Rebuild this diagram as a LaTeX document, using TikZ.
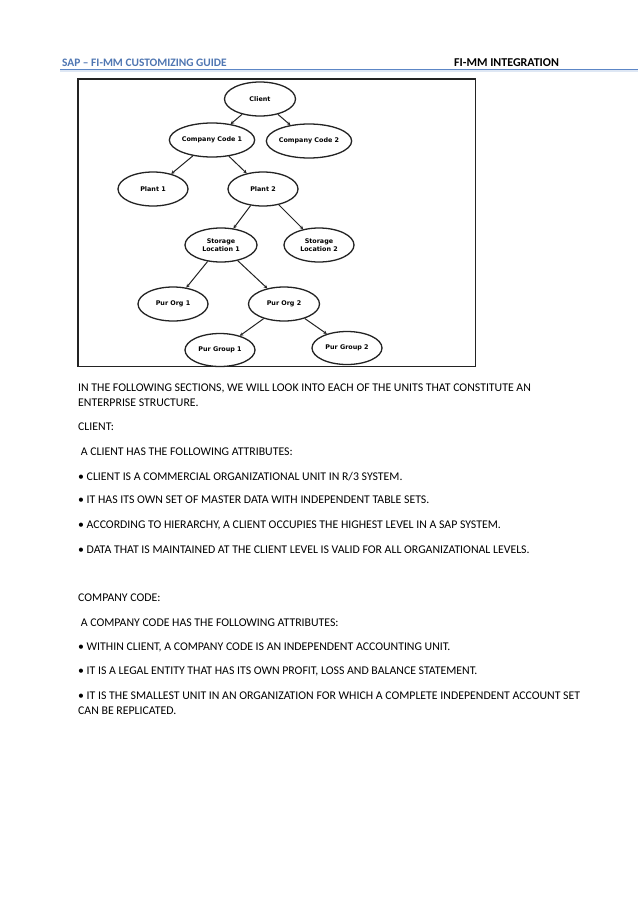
\documentclass[tikz,border=0pt]{standalone}
\usepackage{fontspec}
\setmainfont{Carlito}
\newfontfamily\nodefont{DejaVu Sans}
\usetikzlibrary{shapes.geometric,arrows.meta}
\definecolor{hdrblue}{RGB}{79,118,178}
\definecolor{rulecol}{RGB}{92,134,198}
\definecolor{edgecol}{RGB}{35,35,35}
\tikzset{
  org/.style={ellipse, draw=edgecol, line width=1.3pt, inner sep=0pt,
    minimum width=70pt, minimum height=34pt, align=center,
    font=\nodefont\bfseries\fontsize{6.4}{7.4}\selectfont},
  arr/.style={draw=edgecol, line width=1pt, -{Stealth[length=3.5pt,width=3.5pt]}},
  body/.style={anchor=base west, inner sep=0pt, font=\fontsize{11.8}{14}\selectfont},
  hdr/.style={anchor=base west, inner sep=0pt, font=\bfseries\fontsize{11.8}{14}\selectfont}
}
\begin{document}
\begin{tikzpicture}[x=1pt,y=-1pt]
\useasboundingbox (0,0) rectangle (638,902);
\fill[white] (0,0) rectangle (638,902);
% header
\node[hdr, text=hdrblue, font=\bfseries\fontsize{11.4}{14}\selectfont] (title) at (62,66) {SAP – FI-MM CUSTOMIZING GUIDE};
\node[hdr, font=\bfseries\fontsize{12}{14}\selectfont] (section) at (454,66) {FI-MM INTEGRATION};
\draw[rulecol!20, line width=2pt] (60,71.3) -- (638,71.3);
\draw[rulecol, line width=1.6pt] (60,69.5) -- (638,69.5);
% diagram frame
\draw[edgecol, line width=1.8pt] (78,79) rectangle (475.5,366.5);
% nodes
\node[org, minimum width=71pt] (client) at (260,99) {Client};
\node[org, minimum width=66pt] (cc1) at (212,140) {Company Code 1};
\node[org, minimum width=70pt] (cc2) at (309,141) {Company Code 2};
\node[org] (plant1) at (153,189) {Plant 1};
\node[org] (plant2) at (263,189) {Plant 2};
\node[org, minimum width=72pt] (sl1) at (221,245) {Storage\\Location 1};
\node[org] (sl2) at (319,245) {Storage\\Location 2};
\node[org] (po1) at (173,304) {Pur Org 1};
\node[org, minimum width=71pt] (po2) at (284,304) {Pur Org 2};
\node[org, minimum height=33pt] (pg1) at (220,350) {Pur Group 1};
\node[org, minimum height=33pt] (pg2) at (347,348) {Pur Group 2};
% connectors
\draw[arr] (client) -- (cc1);
\draw[arr] (client) -- (cc2);
\draw[arr] (cc1) -- (plant1);
\draw[arr] (cc1) -- (plant2);
\draw[arr] (plant2) -- (sl1);
\draw[arr] (plant2) -- (sl2);
\draw[arr] (sl1) -- (po1);
\draw[arr] (sl1) -- (po2);
\draw[arr] (po2) -- (pg1);
\draw[arr] (po2) -- (pg2);
% body text
\node[body] (t1) at (78,391) {IN THE FOLLOWING SECTIONS, WE WILL LOOK INTO EACH OF THE UNITS THAT CONSTITUTE AN};
\node[body] (t2) at (78,406) {ENTERPRISE STRUCTURE.};
\node[body] (t3) at (78,430) {CLIENT:};
\node[body] (t4) at (78,455) {\ A CLIENT HAS THE FOLLOWING ATTRIBUTES:};
\node[body] (t5) at (78,480) {• CLIENT IS A COMMERCIAL ORGANIZATIONAL UNIT IN R/3 SYSTEM.};
\node[body] (t6) at (78,503) {• IT HAS ITS OWN SET OF MASTER DATA WITH INDEPENDENT TABLE SETS.};
\node[body] (t7) at (78,528) {• ACCORDING TO HIERARCHY, A CLIENT OCCUPIES THE HIGHEST LEVEL IN A SAP SYSTEM.};
\node[body] (t8) at (78,553) {• DATA THAT IS MAINTAINED AT THE CLIENT LEVEL IS VALID FOR ALL ORGANIZATIONAL LEVELS.};
\node[body] (t9) at (78,601) {COMPANY CODE:};
\node[body] (t10) at (78,626) {\ A COMPANY CODE HAS THE FOLLOWING ATTRIBUTES:};
\node[body] (t11) at (78,650) {• WITHIN CLIENT, A COMPANY CODE IS AN INDEPENDENT ACCOUNTING UNIT.};
\node[body] (t12) at (78,674) {• IT IS A LEGAL ENTITY THAT HAS ITS OWN PROFIT, LOSS AND BALANCE STATEMENT.};
\node[body] (t13) at (78,699) {• IT IS THE SMALLEST UNIT IN AN ORGANIZATION FOR WHICH A COMPLETE INDEPENDENT ACCOUNT SET};
\node[body] (t14) at (78,714) {CAN BE REPLICATED.};
\end{tikzpicture}
\end{document}
